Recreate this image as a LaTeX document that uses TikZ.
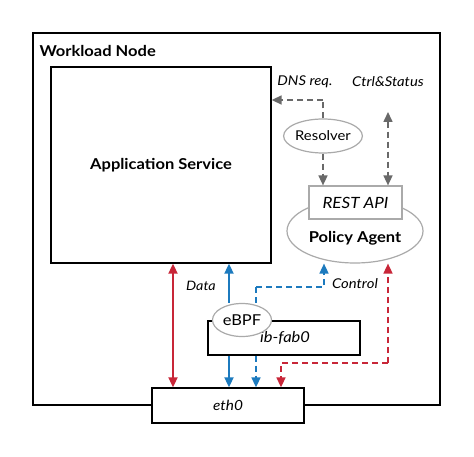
\documentclass[tikz,border=0pt]{standalone}
\usepackage{fontspec}
\setmainfont{Lato}[FakeStretch=1.1]
\usetikzlibrary{arrows.meta,shapes.geometric}
\definecolor{flowred}{RGB}{200,38,56}
\definecolor{flowblue}{RGB}{28,122,190}
\definecolor{flowgray}{RGB}{105,105,105}
\definecolor{rimgray}{RGB}{170,170,170}

\begin{document}
\begin{tikzpicture}[x=1pt,y=-1pt,
  box/.style={draw, line width=1.3pt, fill=white, inner sep=0pt},
  bubble/.style={ellipse, draw=rimgray, line width=1.2pt, fill=white, inner sep=0pt},
  tag/.style={font=\itshape\fontsize{13.5}{15}\selectfont, inner sep=1pt},
  tip/.style={-{Triangle[width=9pt,length=10pt]}},
  tips/.style={{Triangle[width=9pt,length=10pt]}-{Triangle[width=9pt,length=10pt]}},
  solid red/.style={flowred, line width=1.8pt},
  solid blue/.style={flowblue, line width=1.8pt},
  dashed red/.style={flowred, line width=1.6pt, dash pattern=on 6pt off 4pt},
  dashed blue/.style={flowblue, line width=1.6pt, dash pattern=on 6pt off 4pt},
  dashed gray/.style={flowgray, line width=1.6pt, dash pattern=on 6pt off 4pt}]
  \useasboundingbox (0,0) rectangle (474,457);

  \node[box, minimum width=407pt, minimum height=372pt] (workload) at (236.5,219) {};
  \node[anchor=west, font=\bfseries\fontsize{15}{17}\selectfont] (wltitle) at (36,51) {Workload Node};
  \node[box, minimum width=220pt, minimum height=196pt, font=\bfseries\fontsize{15}{17}\selectfont] (app) at (161,165) {Application Service};
  \node[box, minimum width=152pt, minimum height=35pt, font=\itshape\fontsize{14}{16}\selectfont] (eth0) at (228,405.5) {eth0};
  \node[box, minimum width=152pt, minimum height=34pt, font=\itshape\fontsize{15}{17}\selectfont] (ibfab) at (284,338) {\hspace{2pt}\raisebox{-3pt}{ib-fab0}};
  \node[bubble, minimum width=59pt, minimum height=33pt, font=\fontsize{15}{17}\selectfont] (ebpf) at (242,320) {eBPF};
  \node[bubble, minimum width=136pt, minimum height=64pt] (policy) at (355,231) {};
  \node[font=\bfseries\fontsize{15}{17}\selectfont] (policytext) at (355,238) {Policy Agent};
  \node[draw=rimgray, line width=1.2pt, fill=white, minimum width=93pt, minimum height=33pt, font=\itshape\fontsize{15.5}{17}\selectfont] (rest) at (355.5,202.5) {REST API};
  \node[bubble, minimum width=73pt, minimum height=34pt, font=\fontsize{13.5}{15}\selectfont] (resolver) at (323,136) {Resolver};

  \coordinate (datax) at (229,0);
  \coordinate (ctlx) at (256,0);
  \coordinate (ctlbend) at (256,287);
  \coordinate (polblue) at (324,0);
  \coordinate (agentbend) at (388,363);
  \coordinate (dnsbend) at (323,100);
  \coordinate (ctrltop) at (388,112);

  \draw[solid red, tips] ([xshift=12pt]app.south) -- ([xshift=-55pt]eth0.north);
  \draw[solid blue, tip] (datax |- ebpf.north) -- (datax |- app.south);
  \draw[solid blue, tip] (datax |- ibfab.south) -- (datax |- eth0.north);
  \draw[dashed blue] (ebpf.north -| ctlx) -- (ctlbend);
  \draw[dashed blue, tip] (ctlbend) -| (polblue |- policy.south);
  \draw[dashed blue, tip] (ctlx |- ibfab.south) -- (ctlx |- eth0.north);
  \draw[dashed red, tip] (agentbend) -- (agentbend |- policy.south);
  \draw[dashed red, tip] (agentbend) -| ([xshift=53pt]eth0.north);
  \draw[dashed gray] (resolver.north) -- (dnsbend);
  \draw[dashed gray, tip] (dnsbend) -- (app.east |- dnsbend);
  \draw[dashed gray, tip] (resolver.south) -- (rest.north -| resolver.south);
  \draw[dashed gray, tips] (ctrltop) -- (rest.north -| ctrltop);

  \node[tag] (dnslabel) at (305,82) {DNS req.};
  \node[tag] (ctrllabel) at (388,82) {Ctrl\&Status};
  \node[tag] (controllabel) at (355,284) {Control};
  \node[tag, font=\itshape\fontsize{13}{15}\selectfont] (datalabel) at (201,286) {Data};
\end{tikzpicture}
\end{document}
